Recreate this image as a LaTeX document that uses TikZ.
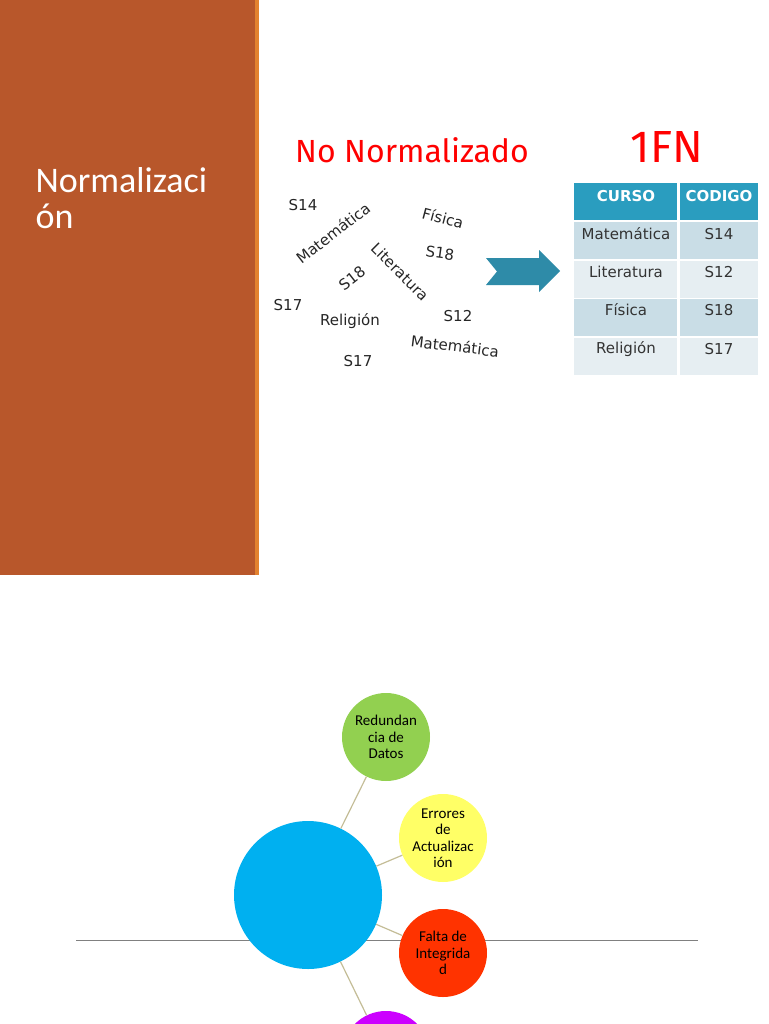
\documentclass[tikz,border=0pt]{standalone}
\usepackage{fontspec}
\setmainfont{Carlito}
\newfontfamily\comic{Fira Sans}
\newfontfamily\verd{DejaVu Sans}
\definecolor{brownp}{HTML}{B8572B}
\definecolor{orangeedge}{HTML}{E3822F}
\definecolor{hdr}{HTML}{2A9DBF}
\definecolor{rowa}{HTML}{C9DDE6}
\definecolor{rowb}{HTML}{E6EEF2}
\definecolor{arrowc}{HTML}{2E8BA8}
\definecolor{linkc}{HTML}{C4BD97}
\begin{document}
\begin{tikzpicture}[x=1pt,y=-1pt,
  word/.style={font=\verd\fontsize{15}{15}\selectfont, text=black!85, inner sep=0pt},
  cell/.style={font=\verd\fontsize{15}{15}\selectfont, text=black!80},
  hcell/.style={font=\verd\bfseries\fontsize{15}{15}\selectfont, text=white},
  bub/.style={circle, minimum size=88pt, inner sep=0pt, align=center, font=\fontsize{15}{16.5}\selectfont},
  link/.style={draw=linkc, line width=1.2pt}]
\useasboundingbox (0,0) rectangle (768,1024);
\fill[white] (0,0) rectangle (768,1024);
\fill[brownp] (0,0) rectangle (255,575);
\fill[orangeedge] (255,0) rectangle (259,575);
\node[anchor=west, text=white, align=left, font=\fontsize{36}{36}\selectfont] (title) at (32,198) {Normalizaci\\ón};
\node[text=red, font=\comic\fontsize{32}{32}\selectfont] (nn) at (412,150) {No Normalizado};
\node[text=red, font=\comic\fontsize{45}{45}\selectfont] (fn) at (667,147) {1FN};
% scattered words
\node[word] (w1) at (303,205) {S14};
\node[word, rotate=38] (w2) at (333,233) {Matemática};
\node[word, rotate=-15] (w3) at (443,218) {Física};
\node[word, rotate=-8] (w4) at (440,253) {S18};
\node[word, rotate=38] (w5) at (352,278) {S18};
\node[word, rotate=-45] (w6) at (400,272) {Literatura};
\node[word] (w7) at (288,305) {S17};
\node[word] (w8) at (350,321) {Religión};
\node[word] (w9) at (458,316) {S12};
\node[word, rotate=-7] (w10) at (455,346) {Matemática};
\node[word] (w11) at (358,361) {S17};
% arrow
\fill[arrowc] (486,258) -- (539,258) -- (539,250) -- (560,271) -- (539,292) -- (539,285) -- (486,285) -- (497,271.5) -- cycle;
% table
\fill[hdr] (574,183) rectangle (677,220);
\fill[hdr] (680,183) rectangle (758,220);
\foreach \y/\c in {222/rowa,261/rowb,299/rowa,338/rowb}{
  \fill[\c] (574,\y) rectangle (677,\y+37);
  \fill[\c] (680,\y) rectangle (758,\y+37);
}
\node[hcell] (h1) at (626,196) {CURSO};
\node[hcell] (h2) at (719,196) {CODIGO};
\node[cell] (c11) at (626,234) {Matemática};
\node[cell] (c12) at (719,234) {S14};
\node[cell] (c21) at (626,272) {Literatura};
\node[cell] (c22) at (719,272) {S12};
\node[cell] (c31) at (626,310) {Física};
\node[cell] (c32) at (719,310) {S18};
\node[cell] (c41) at (626,349) {Religión};
\node[cell] (c42) at (719,349) {S17};
% bottom diagram
\draw[gray, line width=0.8pt] (76,940) -- (698,940);
\node[bub, fill={rgb,255:red,0;green,176;blue,240}, minimum size=148pt] (big) at (308,895) {};
\node[bub, fill={rgb,255:red,146;green,208;blue,80}] (g) at (386,737) {Redundan\\cia de\\Datos};
\node[bub, fill={rgb,255:red,255;green,255;blue,102}] (y) at (443,838) {Errores\\de\\Actualizac\\ión};
\node[bub, fill={rgb,255:red,255;green,51;blue,0}] (r) at (443,953) {Falta de\\Integrida\\d};
\begin{scope}
\clip (0,0) rectangle (768,1024);
\node[bub, fill={rgb,255:red,204;green,0;blue,255}] (m) at (386,1055) {};
\end{scope}
\draw[link] (big) -- (g);
\draw[link] (big) -- (y);
\draw[link] (big) -- (r);
\draw[link] (big) -- (m);
\end{tikzpicture}
\end{document}
